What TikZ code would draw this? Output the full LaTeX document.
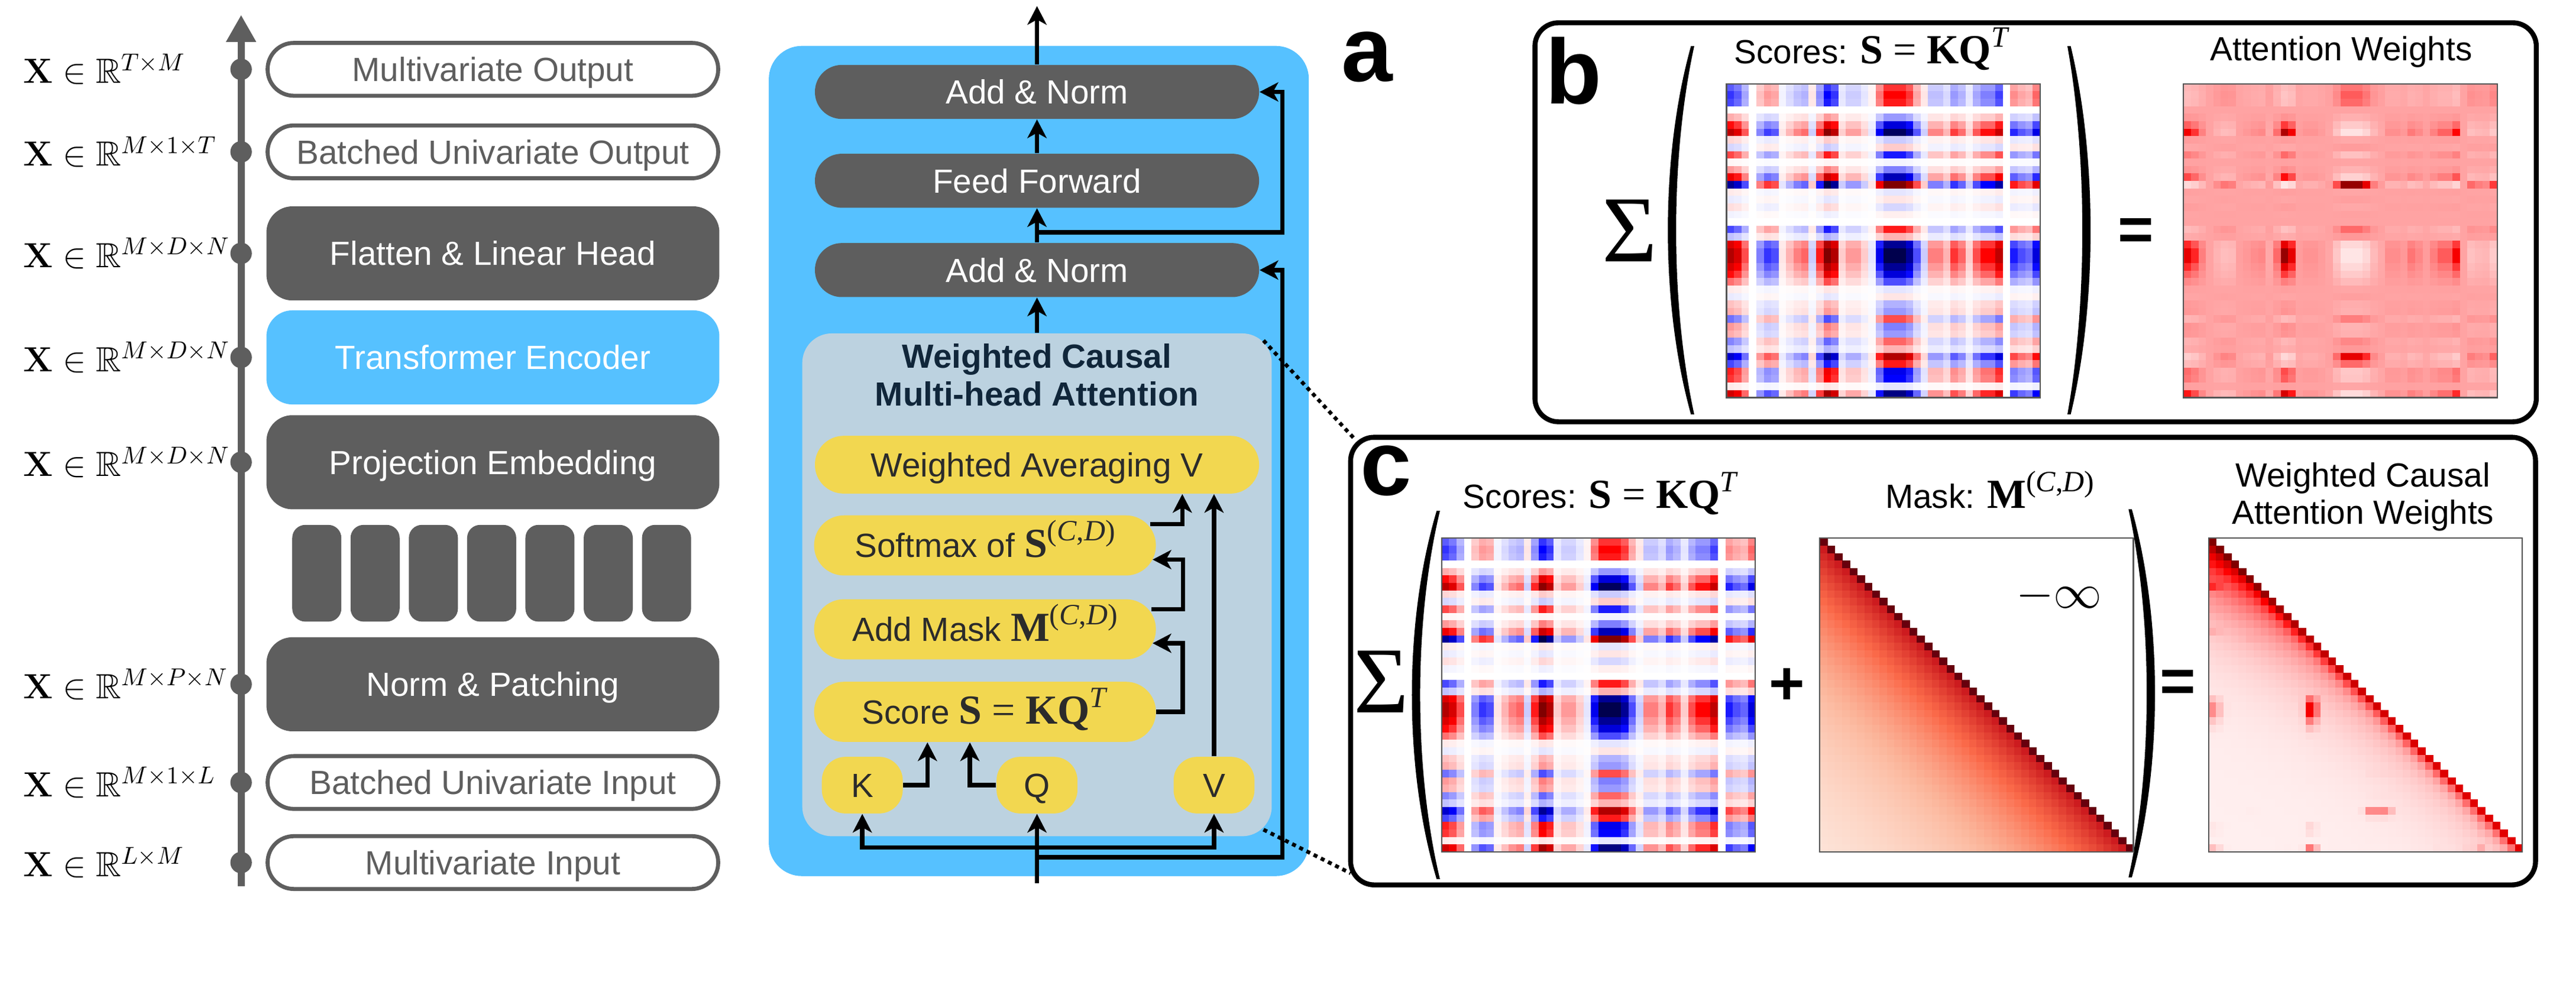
\RequirePackage{fix-cm}
\documentclass[tikz,border=0pt]{standalone}
\usepackage[no-math]{fontspec}
\usepackage{amsmath,amssymb}
\setmainfont{Liberation Sans}
\newfontfamily\tms{Liberation Serif}
\usetikzlibrary{arrows.meta}

\definecolor{boxgray}{HTML}{5E5E5E}
\definecolor{encblue}{HTML}{56C1FF}
\definecolor{attnbg}{HTML}{BCD2E0}
\definecolor{yel}{HTML}{F2D750}
\definecolor{ytext}{HTML}{2B2B2B}
\definecolor{ttl}{HTML}{10263A}
\definecolor{hmframe}{HTML}{555555}

\newcommand{\tm}[1]{{\tms\fontsize{17.5}{20}\selectfont #1}}
\newcommand{\sups}[1]{\raisebox{0.4em}{\fontsize{12.5}{13}\selectfont #1}}
\newcommand{\tsz}{\fontsize{14.2}{17}\selectfont}

\def\rlist{-0.4,-0.5,-0.45,0.0,0.2,0.6,0.95,0.1,-0.1,0.45,0.02,0.25,0.7,-1.0,0.05,-0.05,0.08,-0.03,0.0,-0.45,-0.15,0.8,1.0,1.0,0.8,0.6,0.35,0.05,-0.05,0.15,0.2,-0.35,0.25,0.2,-0.3,-0.15,-0.8,-0.45,0.55,0.5,0.05,0.85}
\def\clist{0.8,0.65,0.35,0.0,-0.25,-0.4,-0.35,0.05,0.15,0.25,0.3,-0.1,0.45,1.0,0.8,0.1,0.2,0.2,0.1,-0.05,-0.55,-1.0,-1.0,-1.0,-0.8,-0.35,-0.1,0.25,0.25,0.15,0.4,0.3,0.1,0.35,0.5,0.5,0.75,0.0,-0.45,-0.35,-0.3,-0.6}
\def\cw{4.5238}

% scores heatmap (seismic colormap)
\newcommand{\scoremap}[2]{%
 \foreach \ri [count=\i from 0] in \rlist {%
  \foreach \cj [count=\j from 0] in \clist {%
   \pgfmathsetmacro\hs{(\ri)*(\cj)}%
   \pgfmathtruncatemacro\hR{255-254*max(\hs-0.5,0)-255*min(1,max(-2*(\hs),0))}%
   \pgfmathtruncatemacro\hG{255*max(0,1-2*abs(\hs))}%
   \pgfmathtruncatemacro\hB{255-356*max(-(\hs)-0.5,0)-255*min(1,max(2*(\hs),0))}%
   \fill[fill={rgb,255:red,\hR;green,\hG;blue,\hB}] ({#1+\j*\cw},{#2+\i*\cw}) rectangle ++(4.85,4.85);%
  }%
 }%
}
% attention weights heatmap
\newcommand{\attnmap}[2]{%
 \foreach \ri [count=\i from 0] in \rlist {%
  \foreach \cj [count=\j from 0] in \clist {%
   \pgfmathsetmacro\hs{(\ri)*(\cj)}%
   \pgfmathsetmacro\hv{min(1,max(0,0.18+0.13*(\hs)+0.6*(max(\hs,0))^3))}%
   \pgfmathtruncatemacro\hR{255-254*max(\hv-0.5,0)}%
   \pgfmathtruncatemacro\hG{255*max(0,1-2*\hv)}%
   \fill[fill={rgb,255:red,\hR;green,\hG;blue,\hG}] ({#1+\j*\cw},{#2+\i*\cw}) rectangle ++(4.85,4.85);%
  }%
 }%
}
% causal mask heatmap (Reds colormap)
\newcommand{\maskmap}[2]{%
 \foreach \i in {0,...,41} {%
  \foreach \j in {0,...,\i} {%
   \pgfmathsetmacro\hm{0.78*exp(-(\i-\j)/18)+0.22*equal(\i,\j)}%
   \pgfmathsetmacro\hca{min(max(4*\hm,0),1)}%
   \pgfmathsetmacro\hcb{min(max(4*\hm-1,0),1)}%
   \pgfmathsetmacro\hcc{min(max(4*\hm-2,0),1)}%
   \pgfmathsetmacro\hcd{min(max(4*\hm-3,0),1)}%
   \pgfmathtruncatemacro\hR{255-3*\hca-\hcb-48*\hcc-100*\hcd}%
   \pgfmathtruncatemacro\hG{245-58*\hca-81*\hcb-82*\hcc-24*\hcd}%
   \pgfmathtruncatemacro\hB{240-79*\hca-87*\hcb-45*\hcc-16*\hcd}%
   \fill[fill={rgb,255:red,\hR;green,\hG;blue,\hB}] ({#1+\j*\cw},{#2+\i*\cw}) rectangle ++(4.85,4.85);%
  }%
 }%
}
% weighted causal attention heatmap
\newcommand{\resmap}[2]{%
 \foreach \ri [count=\i from 0] in \rlist {%
  \foreach \cj [count=\j from 0] in \clist {%
   \ifnum\j>\i\relax\else
   \pgfmathsetmacro\hs{(\ri)*(\cj)}%
   \pgfmathsetmacro\hv{min(1,0.45*exp(max(-1.2*(\i-\j),-9))+0.12*exp(max(-(\i-\j)/6,-9))+0.03+0.6*exp(-\i/10)*exp(-(\i-\j)/12)+0.45*(max(\hs,0))^4)}%
   \pgfmathtruncatemacro\hR{255-254*max(\hv-0.5,0)}%
   \pgfmathtruncatemacro\hG{255*max(0,1-2*\hv)}%
   \fill[fill={rgb,255:red,\hR;green,\hG;blue,\hG}] ({#1+\j*\cw},{#2+\i*\cw}) rectangle ++(4.85,4.85);%
   \fi
  }%
 }%
}
% big parentheses: #1 end x (outer), #2 middle x (outer), #3 top y, #4 bottom y
\newcommand{\myLparen}[4]{%
 \fill[black] (#1,#3) .. controls ({(#2-0.25*#1)/0.75},{#3+0.3*(#4-#3)}) and ({(#2-0.25*#1)/0.75},{#4-0.3*(#4-#3)}) .. (#1,#4)
   -- ({#1+2},#4) .. controls ({(#2+5-0.25*(#1+2))/0.75},{#4-0.3*(#4-#3)}) and ({(#2+5-0.25*(#1+2))/0.75},{#3+0.3*(#4-#3)}) .. ({#1+2},#3) -- cycle;}
\newcommand{\myRparen}[4]{%
 \fill[black] (#1,#3) .. controls ({(#2-0.25*#1)/0.75},{#3+0.3*(#4-#3)}) and ({(#2-0.25*#1)/0.75},{#4-0.3*(#4-#3)}) .. (#1,#4)
   -- ({#1-2},#4) .. controls ({(#2-5-0.25*(#1-2))/0.75},{#4-0.3*(#4-#3)}) and ({(#2-5-0.25*(#1-2))/0.75},{#3+0.3*(#4-#3)}) .. ({#1-2},#3) -- cycle;}

\tikzset{
  outl/.style={draw=boxgray, line width=1.7pt, fill=white, rounded corners=11.1pt, minimum width=191pt, minimum height=22.4pt, text=boxgray, font=\tsz, inner sep=0pt, text height=10.2pt, text depth=0pt},
  darkbox/.style={fill=boxgray, rounded corners=11pt, minimum width=192pt, minimum height=39.9pt, text=white, font=\tsz, inner sep=0pt, text height=10.2pt, text depth=0pt},
  bluebox/.style={darkbox, fill=encblue},
  patchbox/.style={fill=boxgray, rounded corners=5.5pt, minimum width=20.8pt, minimum height=41pt, inner sep=0pt},
  axdot/.style={circle, fill=boxgray, minimum size=9.1pt, inner sep=0pt},
  xlab/.style={anchor=base west, inner sep=0pt, font=\fontsize{14.8}{17}\selectfont},
  axisl/.style={draw=boxgray, line width=3pt, -{Triangle[length=11.5pt,width=12pt]}},
  encbg/.style={fill=encblue, rounded corners=14pt, minimum width=228.9pt, minimum height=352pt, inner sep=0pt},
  attnbox/.style={fill=attnbg, rounded corners=12.5pt, minimum width=199pt, minimum height=213.2pt, inner sep=0pt},
  attntitle/.style={align=center, font=\fontsize{14.2}{16}\selectfont\bfseries, text=ttl, inner sep=0pt},
  pillgray/.style={fill=boxgray, rounded corners=11.4pt, minimum width=188.3pt, minimum height=22.9pt, text=white, font=\tsz, inner sep=0pt, text height=10.2pt, text depth=0pt},
  pillyel/.style={fill=yel, rounded corners=12.2pt, minimum width=188.3pt, minimum height=24.5pt, text=ytext, font=\tsz, inner sep=0pt, text height=10.2pt, text depth=0pt},
  pillyelb/.style={pillyel, rounded corners=12.7pt, minimum width=144.9pt, minimum height=25.5pt},
  kqv/.style={fill=yel, rounded corners=10pt, minimum width=34.3pt, minimum height=24pt, text=ytext, font=\tsz, inner sep=0pt, text height=10.2pt, text depth=0pt},
  arr/.style={draw=black, line width=1.85pt, -{Stealth[length=7.9pt,width=8.1pt,inset=2.2pt]}},
  dotl/.style={draw=black, line width=1.6pt, dash pattern=on 1.7pt off 1.7pt},
  panel/.style={draw=black, line width=2.1pt, rounded corners=10pt, inner sep=0pt},
  plab/.style={anchor=base, inner sep=0pt, font=\fontsize{39}{40}\selectfont\bfseries},
  sig/.style={anchor=base, inner sep=0pt, font=\tms\fontsize{40}{40}\selectfont},
  ttlab/.style={anchor=base, inner sep=0pt, font=\tsz},
  opsym/.style={inner sep=0pt, font=\fontsize{26}{26}\selectfont\bfseries},
  hmf/.style={draw=hmframe, line width=0.6pt},
}

\begin{document}
\begin{tikzpicture}[x=0.7pt,y=-0.7pt]
\useasboundingbox (0,0) rectangle (1560,594.5);

% ---------------- left column ----------------
\coordinate (axb) at (146,537);
\coordinate (axt) at (146,9);
\draw[axisl] (axb) -- (axt);
\foreach \yy/\n in {42/1,92/2,153.5/3,216.5/4,280/5,414.5/6,474/7,522.5/8}
  \node[axdot] (dot\n) at (146,\yy) {};

\node[xlab] (lab1) at (14,50.5) {$\mathbf{X}\in\mathbb{R}^{T\times M}$};
\node[xlab] (lab2) at (14,100.5) {$\mathbf{X}\in\mathbb{R}^{M\times 1\times T}$};
\node[xlab] (lab3) at (14,162) {$\mathbf{X}\in\mathbb{R}^{M\times D\times N}$};
\node[xlab] (lab4) at (14,225) {$\mathbf{X}\in\mathbb{R}^{M\times D\times N}$};
\node[xlab] (lab5) at (14,288.5) {$\mathbf{X}\in\mathbb{R}^{M\times D\times N}$};
\node[xlab] (lab6) at (14,423) {$\mathbf{X}\in\mathbb{R}^{M\times P\times N}$};
\node[xlab] (lab7) at (14,482.5) {$\mathbf{X}\in\mathbb{R}^{M\times 1\times L}$};
\node[xlab] (lab8) at (14,531) {$\mathbf{X}\in\mathbb{R}^{L\times M}$};

\node[outl] (mvout) at (298.5,42) {Multivariate Output};
\node[outl] (buout) at (298.5,92) {Batched Univariate Output};
\node[darkbox] (flat) at (298.5,153.5) {Flatten \& Linear Head};
\node[bluebox] (tenc) at (298.5,216.5) {Transformer Encoder};
\node[darkbox] (proj) at (298.5,280) {Projection Embedding};
\foreach \k in {0,...,6}
  \node[patchbox] (patch\k) at ({191.85+35.3*\k},347.25) {};
\node[darkbox] (normp) at (298.5,414.5) {Norm \& Patching};
\node[outl] (buin) at (298.5,474) {Batched Univariate Input};
\node[outl] (mvin) at (298.5,522.5) {Multivariate Input};

% ---------------- middle: encoder ----------------
\node[encbg] (enc) at (629.1,279.25) {};
\node[pillgray] (an1) at (628,55.7) {Add \& Norm};
\node[pillgray] (ff) at (628,109.5) {Feed Forward};
\node[pillgray] (an2) at (628,163.6) {Add \& Norm};
\node[attnbox] (attn) at (628,354.25) {};
\node[attntitle] (attnt) at (628,227.2) {Weighted Causal\\Multi-head Attention};
\node[pillyel] (wav) at (628,281.5) {Weighted Averaging V};
\node[pillyelb] (soft) at (596.5,330.4) {Softmax of \tm{\textbf{S}\sups{(\textit{C},\textit{D})}}};
\node[pillyelb] (mask) at (596.5,381.2) {Add Mask \tm{\textbf{M}\sups{(\textit{C},\textit{D})}}};
\node[pillyelb] (score) at (596.5,431.2) {Score \tm{\textbf{S} = \textbf{KQ}\sups{\textit{T}}}};
\node[kqv] (K) at (522.2,475.6) {K};
\node[kqv] (Q) at (628,475.6) {Q};
\node[kqv] (V) at (735.2,475.6) {V};

\coordinate (outtop) at (628,3.7);
\draw[arr] (an1.north) -- (outtop);
\draw[arr] (ff.north) -- (an1.south);
\draw[arr] (an2.north) -- (ff.south);
\draw[arr] (attn.north) -- (an2.south);
\coordinate (res2) at (628,140.7);
\draw[arr] (res2) -- ++(148.7,0) |- (an1.east);
\coordinate (res1) at (628,519.3);
\draw[arr] (res1) -- ++(148.7,0) |- (an2.east);
\coordinate (inp) at (628,535);
\draw[arr] (inp) -- (Q.south);
\coordinate (kv) at (628,513.4);
\draw[arr] (kv) -| (K.south);
\draw[arr] (kv) -| (V.south);
\draw[arr] (K.east) -| ([xshift=-24.4pt]score.south);
\draw[arr] (Q.west) -| ([xshift=-6.4pt]score.south);
\draw[arr] (score.east) -- ++(16,0) |- ([xshift=-1.6pt,yshift=-5.9pt]mask.east);
\draw[arr] ([xshift=-2pt,yshift=8.5pt]mask.east) -- ++(18.9,0) |- ([xshift=-1.6pt,yshift=-6pt]soft.east);
\draw[arr] ([xshift=-2.5pt,yshift=9pt]soft.east) -| ([xshift=61.6pt]wav.south);
\draw[arr] (V.north) -- (V.north |- wav.south);

\node[plab] (la) at (828,49.4) {a};

% ---------------- panel b ----------------
\node[panel, minimum width=424.5pt, minimum height=169.2pt] (boxb) at (1232.75,134.65) {};
\node[plab] (lb) at (953,63) {b};
\node[sig] (sigb) at (986.8,158.5) {Σ};
\myLparen{1024}{1010}{28}{251}
\myRparen{1254}{1266}{28}{251}
\node[ttlab] (tb1) at (1133.5,38.6) {Scores: \tm{\textbf{S} = \textbf{KQ}\sups{\textit{T}}}};
\node[ttlab] (tb2) at (1417.8,36.8) {Attention Weights};
\scoremap{1045.5}{50.8}
\draw[hmf] (1045.5,50.8) rectangle ++(190,190);
\node[opsym] (eqb) at (1293.5,141.9) {=};
\attnmap{1322.3}{50.8}
\draw[hmf] (1322.3,50.8) rectangle ++(190,190);

% ---------------- panel c ----------------
\node[panel, minimum width=502.3pt, minimum height=189.8pt] (boxc) at (1176.7,400.45) {};
\node[plab] (lc) at (839.5,300) {c};
\node[sig] (sigc) at (836.5,431.6) {Σ};
\myLparen{870}{855}{309.5}{532.5}
\myRparen{1291}{1305}{308.5}{531.5}
\node[ttlab] (tc1) at (969.3,307.8) {Scores: \tm{\textbf{S} = \textbf{KQ}\sups{\textit{T}}}};
\node[ttlab] (tc2) at (1205,307.8) {Mask: \tm{\textbf{M}\sups{(\textit{C},\textit{D})}}};
\node[ttlab] (tc3a) at (1431,294.9) {Weighted Causal};
\node[ttlab] (tc3b) at (1431,317.5) {Attention Weights};
\scoremap{873}{326}
\draw[hmf] (873,326) rectangle ++(190,190);
\node[opsym] (plusc) at (1082,415.7) {+};
\maskmap{1102}{326}
\draw[hmf] (1102,326) rectangle ++(190,190);
\node[inner sep=0pt, font=\fontsize{20.5}{22}\selectfont] (minf) at (1247,361) {$-\infty$};
\node[opsym] (eqc) at (1319,415.7) {=};
\resmap{1337.5}{326}
\draw[hmf] (1337.5,326) rectangle ++(190,190);

% dotted zoom lines
\draw[dotl] ([xshift=-3.7pt,yshift=-3.2pt]attn.north east) -- ([xshift=2.5pt,yshift=-1.5pt]boxc.north west);
\draw[dotl] ([xshift=-3.7pt,yshift=3pt]attn.south east) -- ([xshift=1pt,yshift=6pt]boxc.south west);
\end{tikzpicture}
\end{document}
